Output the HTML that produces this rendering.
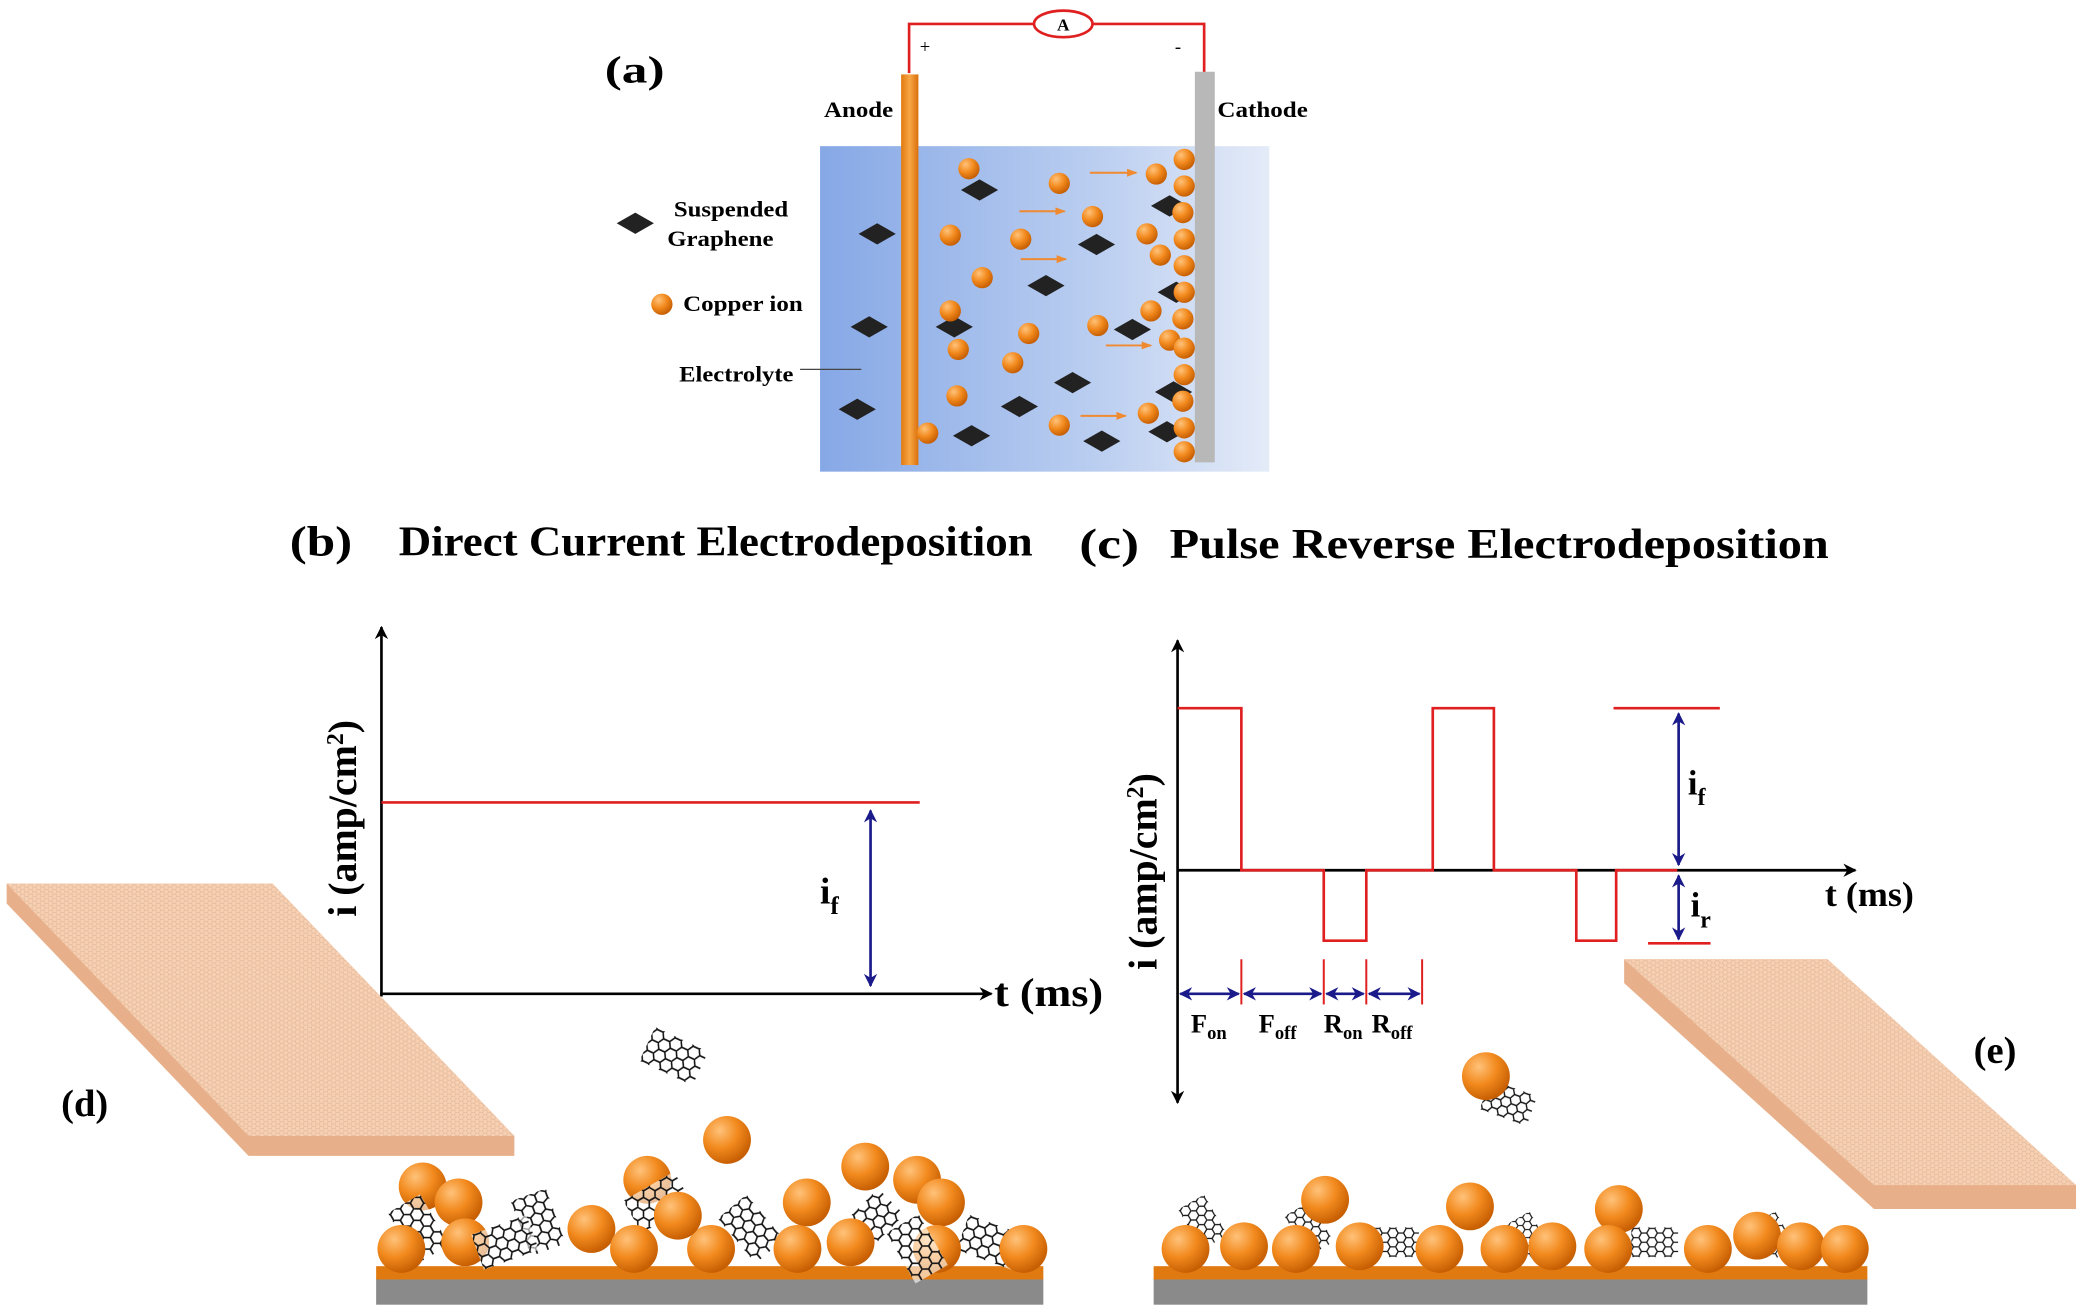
<!DOCTYPE html>
<html><head><meta charset="utf-8"><style>html,body{margin:0;padding:0;background:#fff}svg{display:block}</style></head>
<body>
<svg width="2084" height="1314" viewBox="0 0 1568 989" preserveAspectRatio="none" xmlns="http://www.w3.org/2000/svg" font-family="Liberation Serif, serif" font-weight="bold">
<defs>
<linearGradient id="bk" x1="0" x2="1"><stop offset="0" stop-color="#86a8e6"/><stop offset="0.6" stop-color="#b9cdf0"/><stop offset="1" stop-color="#e4ebf8"/></linearGradient>
<radialGradient id="ball" cx="0.35" cy="0.3" r="0.75"><stop offset="0" stop-color="#ffc27a"/><stop offset="0.5" stop-color="#f28a1e"/><stop offset="1" stop-color="#c25a00"/></radialGradient>
<linearGradient id="rod" x1="0" x2="1"><stop offset="0" stop-color="#e07a10"/><stop offset="0.5" stop-color="#f9a646"/><stop offset="1" stop-color="#d8700a"/></linearGradient>
<pattern id="hex" width="15" height="8.66" patternUnits="userSpaceOnUse"><path d="M0,4.33 L2.5,0 L7.5,0 L10,4.33 L7.5,8.66 L2.5,8.66 Z M10,4.33 L15,4.33" fill="none" stroke="#111" stroke-width="1.2"/></pattern>
<pattern id="hexs" width="6" height="3.46" patternUnits="userSpaceOnUse"><path d="M0,1.73 L1,0 L3,0 L4,1.73 L3,3.46 L1,3.46 Z M4,1.73 L6,1.73" fill="none" stroke="#222" stroke-width="0.5"/></pattern>
<g id="gs"><polygon points="0,-8 14,0 0,8 -14,0" fill="#222"/></g>
<g id="b"><circle r="8" fill="url(#ball)"/></g>
<g id="B"><circle r="18" fill="url(#ball)"/></g>
<g id="gp"><rect x="-22" y="-14" width="44" height="28" fill="#fff" opacity="0.6"/><rect x="-22" y="-14" width="44" height="28" fill="url(#hex)"/></g>
<marker id="ah" markerWidth="10" markerHeight="10" refX="9" refY="5" orient="auto" markerUnits="userSpaceOnUse"><path d="M0,0 L10,5 L0,10 L3,5z" fill="#000"/></marker>
<marker id="bh" markerWidth="10" markerHeight="10" refX="9" refY="5" orient="auto-start-reverse" markerUnits="userSpaceOnUse"><path d="M0,0 L10,5 L0,10 L3,5z" fill="#1a1a8a"/></marker>
<marker id="oh" markerWidth="8" markerHeight="8" refX="7" refY="4" orient="auto" markerUnits="userSpaceOnUse"><path d="M0,1 L8,4 L0,7z" fill="#f08a30"/></marker>
</defs>

<!-- (a) -->
<text x="455" y="62" font-size="29" textLength="45" lengthAdjust="spacingAndGlyphs">(a)</text>
<rect x="617" y="110" width="338" height="245" fill="url(#bk)"/>
<polyline points="684,55 684,18 779,18" fill="none" stroke="#e02020" stroke-width="2"/>
<polyline points="822,18 906,18 906,55" fill="none" stroke="#e02020" stroke-width="2"/>
<ellipse cx="800" cy="18" rx="22" ry="10" fill="#fff" stroke="#e02020" stroke-width="2"/>
<text x="800" y="23" font-size="13" text-anchor="middle">A</text>
<text x="692" y="40" font-size="14" font-weight="normal">+</text>
<text x="884" y="40" font-size="14" font-weight="normal">-</text>
<rect x="678" y="56" width="13" height="294" fill="url(#rod)"/>
<rect x="899" y="54" width="15" height="294" fill="#b8b8b8"/>
<g lengthAdjust="spacingAndGlyphs">
<text x="620" y="88" font-size="17" textLength="52" lengthAdjust="spacingAndGlyphs">Anode</text>
<text x="916" y="88" font-size="17" textLength="68" lengthAdjust="spacingAndGlyphs">Cathode</text>
<text x="507" y="163" font-size="17" textLength="86" lengthAdjust="spacingAndGlyphs">Suspended</text>
<text x="502" y="185" font-size="17" textLength="80" lengthAdjust="spacingAndGlyphs">Graphene</text>
<text x="514" y="234" font-size="17" textLength="90" lengthAdjust="spacingAndGlyphs">Copper ion</text>
<text x="511" y="287" font-size="17" textLength="86" lengthAdjust="spacingAndGlyphs">Electrolyte</text>
</g>
<use href="#gs" x="478" y="168"/>
<use href="#b" x="498" y="229"/>
<line x1="648" y1="278" x2="602" y2="278" stroke="#444" stroke-width="1"/>
<g>
<use href="#gs" x="660" y="176"/><use href="#gs" x="654" y="246"/><use href="#gs" x="645" y="308"/>
<use href="#gs" x="737" y="143"/><use href="#gs" x="787" y="215"/><use href="#gs" x="825" y="184"/><use href="#gs" x="718" y="246"/>
<use href="#gs" x="807" y="288"/><use href="#gs" x="767" y="306"/><use href="#gs" x="731" y="328"/><use href="#gs" x="829" y="332"/><use href="#gs" x="852" y="248"/>
<use href="#gs" x="880" y="155"/><use href="#gs" x="885" y="220"/><use href="#gs" x="883" y="295"/><use href="#gs" x="878" y="325"/>
<use href="#b" x="729" y="127"/><use href="#b" x="797" y="138"/><use href="#b" x="870" y="131"/><use href="#b" x="715" y="177"/><use href="#b" x="768" y="180"/><use href="#b" x="822" y="163"/>
<use href="#b" x="739" y="209"/><use href="#b" x="715" y="234"/><use href="#b" x="721" y="263"/><use href="#b" x="774" y="251"/><use href="#b" x="762" y="273"/><use href="#b" x="826" y="245"/>
<use href="#b" x="720" y="298"/><use href="#b" x="698" y="326"/><use href="#b" x="797" y="320"/><use href="#b" x="864" y="311"/><use href="#b" x="863" y="176"/><use href="#b" x="873" y="192"/><use href="#b" x="866" y="234"/><use href="#b" x="880" y="256"/>
<use href="#b" x="891" y="120"/><use href="#b" x="891" y="140"/><use href="#b" x="890" y="160"/><use href="#b" x="891" y="180"/><use href="#b" x="891" y="200"/><use href="#b" x="891" y="220"/><use href="#b" x="890" y="240"/><use href="#b" x="891" y="262"/><use href="#b" x="891" y="282"/><use href="#b" x="890" y="302"/><use href="#b" x="891" y="322"/><use href="#b" x="891" y="340"/>
</g>
<g stroke="#f08a30" stroke-width="1.5" marker-end="url(#oh)">
<line x1="820" y1="130" x2="855" y2="130"/><line x1="767" y1="159" x2="801" y2="159"/><line x1="768" y1="195" x2="802" y2="195"/><line x1="832" y1="260" x2="866" y2="260"/><line x1="813" y1="313" x2="847" y2="313"/>
</g>

<!-- titles -->
<text x="218" y="418" font-size="32" textLength="47" lengthAdjust="spacingAndGlyphs">(b)</text>
<text x="300" y="418" font-size="32" textLength="477" lengthAdjust="spacingAndGlyphs">Direct Current Electrodeposition</text>
<text x="812" y="420" font-size="32" textLength="45" lengthAdjust="spacingAndGlyphs">(c)</text>
<text x="880" y="420" font-size="32" textLength="496" lengthAdjust="spacingAndGlyphs">Pulse Reverse Electrodeposition</text>

<!-- DC graph -->
<line x1="287" y1="750" x2="287" y2="472" stroke="#000" stroke-width="2" marker-end="url(#ah)"/>
<line x1="286" y1="748" x2="746" y2="748" stroke="#000" stroke-width="2" marker-end="url(#ah)"/>
<line x1="287" y1="604" x2="692" y2="604" stroke="#e02020" stroke-width="2"/>
<line x1="655" y1="610" x2="655" y2="742" stroke="#1a1a8a" stroke-width="2" marker-start="url(#bh)" marker-end="url(#bh)"/>
<text x="617" y="680" font-size="28">i<tspan font-size="19" dy="8">f</tspan></text>
<text x="748" y="757" font-size="30" textLength="82" lengthAdjust="spacingAndGlyphs">t (ms)</text>
<text transform="translate(268,690) rotate(-90)" font-size="30">i (amp/cm<tspan font-size="18" dy="-10">2</tspan><tspan dy="10">)</tspan></text>

<!-- pulse graph -->
<line x1="886" y1="700" x2="886" y2="482" stroke="#000" stroke-width="2" marker-end="url(#ah)"/>
<line x1="886" y1="700" x2="886" y2="830" stroke="#000" stroke-width="2" marker-end="url(#ah)"/>
<line x1="886" y1="655" x2="1396" y2="655" stroke="#000" stroke-width="2" marker-end="url(#ah)"/>
<polyline points="886,533 934,533 934,655 996,655 996,708 1028,708 1028,655 1078,655 1078,533 1124,533 1124,655 1186,655 1186,708 1216,708 1216,655 1262,655" fill="none" stroke="#e02020" stroke-width="2"/>
<line x1="1214" y1="533" x2="1294" y2="533" stroke="#e02020" stroke-width="2"/>
<line x1="1240" y1="710" x2="1287" y2="710" stroke="#e02020" stroke-width="2"/>
<line x1="1263" y1="537" x2="1263" y2="651" stroke="#1a1a8a" stroke-width="2" marker-start="url(#bh)" marker-end="url(#bh)"/>
<line x1="1263" y1="659" x2="1263" y2="707" stroke="#1a1a8a" stroke-width="2" marker-start="url(#bh)" marker-end="url(#bh)"/>
<text x="1270" y="598" font-size="26">i<tspan font-size="18" dy="8">f</tspan></text>
<text x="1272" y="690" font-size="26">i<tspan font-size="18" dy="8">r</tspan></text>
<text x="1373" y="682" font-size="26" textLength="67" lengthAdjust="spacingAndGlyphs">t (ms)</text>
<text transform="translate(870,730) rotate(-90)" font-size="30">i (amp/cm<tspan font-size="18" dy="-10">2</tspan><tspan dy="10">)</tspan></text>
<g stroke="#e02020" stroke-width="1.5"><line x1="934" y1="722" x2="934" y2="756"/><line x1="996" y1="722" x2="996" y2="756"/><line x1="1028" y1="722" x2="1028" y2="756"/><line x1="1070" y1="722" x2="1070" y2="756"/></g>
<g stroke="#1a1a8a" stroke-width="2" marker-start="url(#bh)" marker-end="url(#bh)">
<line x1="888" y1="748" x2="932" y2="748"/><line x1="936" y1="748" x2="994" y2="748"/><line x1="998" y1="748" x2="1026" y2="748"/><line x1="1030" y1="748" x2="1068" y2="748"/>
</g>
<g font-size="20"><text x="896" y="777">F<tspan font-size="14" dy="5">on</tspan></text><text x="947" y="777">F<tspan font-size="14" dy="5">off</tspan></text><text x="996" y="777">R<tspan font-size="14" dy="5">on</tspan></text><text x="1032" y="777">R<tspan font-size="14" dy="5">off</tspan></text></g>

<!-- substrates d, e -->
<polygon points="5,665 205,665 387,855 387,870 187,870 5,680" fill="#e8b08a"/>
<polygon points="5,665 205,665 387,855 187,855" fill="#f8cfb0"/>
<polygon points="5,665 205,665 387,855 187,855" fill="url(#hexs)" opacity="0.12"/>
<text x="46" y="840" font-size="29">(d)</text>
<polygon points="1222,722 1375,722 1562,892 1562,910 1410,910 1222,740" fill="#e8b08a"/>
<polygon points="1222,722 1375,722 1562,892 1410,892" fill="#f8cfb0"/>
<polygon points="1222,722 1375,722 1562,892 1410,892" fill="url(#hexs)" opacity="0.12"/>
<text x="1485" y="800" font-size="29">(e)</text>

<!-- left deposit -->
<rect x="283" y="962" width="502" height="20" fill="#8a8a8a"/>
<rect x="283" y="953" width="502" height="10" fill="#e07a10"/>
<g>
<use href="#gp" transform="translate(507,795) rotate(25)"/>
<use href="#B" x="547" y="858"/>
<use href="#B" x="318" y="893"/><use href="#B" x="345" y="905"/><use href="#B" x="487" y="888"/><use href="#B" x="651" y="878"/><use href="#B" x="690" y="888"/><use href="#B" x="708" y="905"/><use href="#B" x="607" y="905"/>
<use href="#gp" transform="translate(315,925) rotate(60)"/><use href="#gp" transform="translate(405,920) rotate(70)"/><use href="#gp" transform="translate(495,905) rotate(-30)"/><use href="#gp" transform="translate(565,925) rotate(50)"/><use href="#gp" transform="translate(655,920) rotate(-45)"/><use href="#gp" transform="translate(745,935) rotate(20)"/>
<use href="#B" x="302" y="940"/><use href="#B" x="350" y="935"/><use href="#B" x="445" y="925"/><use href="#B" x="477" y="940"/><use href="#B" x="535" y="940"/><use href="#B" x="510" y="915"/><use href="#B" x="600" y="940"/><use href="#B" x="640" y="935"/><use href="#B" x="705" y="940"/><use href="#B" x="770" y="940"/>
<use href="#gp" transform="translate(380,935) rotate(-20)"/><use href="#gp" transform="translate(690,940) rotate(60)"/>
</g>

<!-- right deposit -->
<rect x="868" y="962" width="537" height="20" fill="#8a8a8a"/>
<rect x="868" y="953" width="537" height="10" fill="#e07a10"/>
<use href="#gp" transform="translate(1135,830) rotate(20) scale(0.85)"/>
<use href="#B" x="1118" y="810"/>
<g>
<use href="#gp" transform="translate(905,920) rotate(60) scale(0.8)"/><use href="#gp" transform="translate(985,925) rotate(60) scale(0.8)"/><use href="#gp" transform="translate(1050,935) scale(0.8)"/><use href="#gp" transform="translate(1150,930) rotate(60) scale(0.7)"/><use href="#gp" transform="translate(1245,935) scale(0.8)"/><use href="#gp" transform="translate(1335,930) rotate(60) scale(0.7)"/>
<use href="#B" x="997" y="903"/><use href="#B" x="1106" y="908"/><use href="#B" x="1218" y="910"/><use href="#B" x="1322" y="930"/>
<use href="#B" x="892" y="940"/><use href="#B" x="936" y="938"/><use href="#B" x="975" y="940"/><use href="#B" x="1023" y="938"/><use href="#B" x="1083" y="940"/><use href="#B" x="1132" y="940"/><use href="#B" x="1168" y="938"/><use href="#B" x="1210" y="940"/><use href="#B" x="1285" y="940"/><use href="#B" x="1355" y="938"/><use href="#B" x="1388" y="940"/>
</g>
</svg>
</body></html>
